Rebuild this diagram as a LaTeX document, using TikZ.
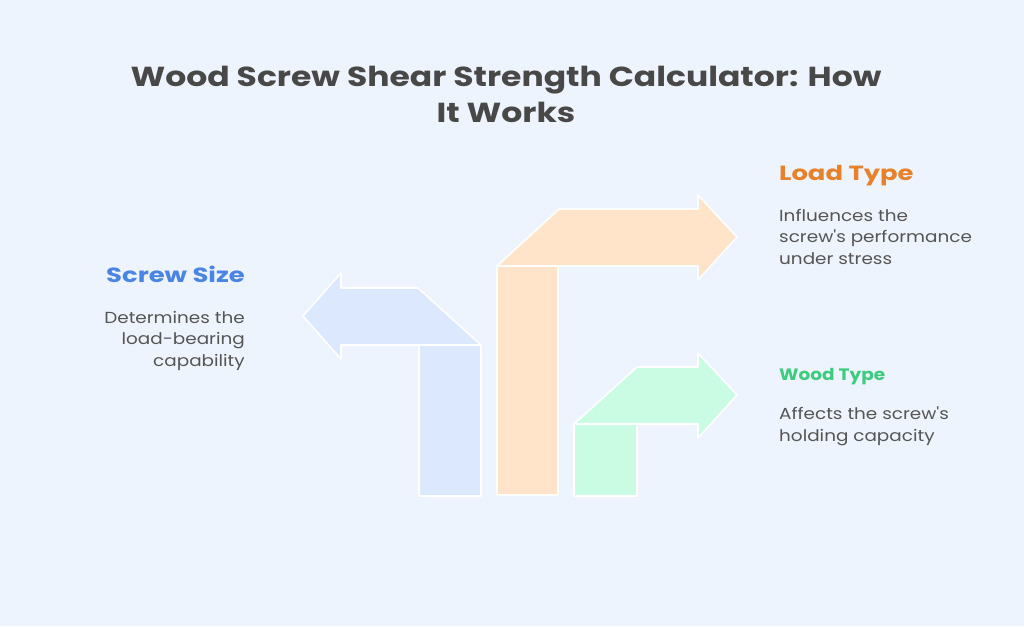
\documentclass[tikz,border=0pt]{standalone}
\usepackage{fontspec}
\setmainfont{Poppins}[Ligatures=TeXOff]
\newfontfamily\titlefont{Poppins}[FakeStretch=1.2, Ligatures=TeXOff]
\newfontfamily\headfont{Poppins}[FakeStretch=1.26, Ligatures=TeXOff]
\newfontfamily\smallheadfont{Poppins}[FakeStretch=1.12, Ligatures=TeXOff]
\newfontfamily\bodyfont{Poppins}[FakeStretch=1.15, Ligatures=TeXOff]
\definecolor{bgc}{HTML}{EEF4FD}
\definecolor{bluefill}{HTML}{DBE8FD}
\definecolor{orangefill}{HTML}{FFE4CA}
\definecolor{greenfill}{HTML}{CAFCE3}
\definecolor{titlec}{HTML}{484848}
\definecolor{bodyc}{HTML}{555555}
\definecolor{bluetext}{HTML}{4A85E5}
\definecolor{orangetext}{HTML}{E8812B}
\definecolor{greentext}{HTML}{3DCB7E}
\tikzset{
  shapeline/.style={draw=white, line width=1.6pt, line join=round},
  heading/.style={inner sep=0pt, font=\headfont\bfseries\fontsize{20.5}{24}\selectfont},
  bodytext/.style={inner sep=0pt, text=bodyc, font=\bodyfont\fontsize{16}{21.5}\selectfont},
}
\begin{document}
\begin{tikzpicture}[x=1pt,y=-1pt]
\fill[bgc] (0,0) rectangle (1024,626);
\useasboundingbox (0,0) rectangle (1024,626);
% title
\node[inner sep=0pt, align=center, text=titlec, font=\titlefont\bfseries\fontsize{27.5}{36}\selectfont, anchor=north] (title) at (506,66) {Wood Screw Shear Strength Calculator: How\\It Works};
% blue (screw size)
\path[shapeline, fill=bluefill] (419,345) rectangle (481,496);
\path[shapeline, fill=bluefill] (481,345) -- (341,345) -- (341,359) -- (303,316) -- (341,273) -- (341,288) -- (418,288) -- cycle;
% orange (load type)
\path[shapeline, fill=orangefill] (497,266) rectangle (558,495);
\path[shapeline, fill=orangefill] (497,266) -- (559,209) -- (698,209) -- (698,195) -- (737,237) -- (698,280) -- (698,266) -- cycle;
% green (wood type)
\path[shapeline, fill=greenfill] (574,424) rectangle (637,496);
\path[shapeline, fill=greenfill] (574,424) -- (637,367) -- (698,367) -- (698,353) -- (737,395) -- (698,438) -- (698,424) -- cycle;
% texts
\node[heading, text=bluetext, anchor=north east] (sshead) at (245,266) {Screw Size};
\node[bodytext, align=right, anchor=north east] (ssbody) at (245,311) {Determines the\\load-bearing\\capability};
\node[heading, text=orangetext, anchor=north west] (lthead) at (779,165) {Load Type};
\node[bodytext, align=left, anchor=north west] (ltbody) at (779,209) {Influences the\\screw's performance\\under stress};
\node[heading, text=greentext, anchor=north west, font=\smallheadfont\bfseries\fontsize{16.5}{20}\selectfont] (wthead) at (779,368) {Wood Type};
\node[bodytext, align=left, anchor=north west] (wtbody) at (779,407) {Affects the screw's\\holding capacity};
\end{tikzpicture}
\end{document}
